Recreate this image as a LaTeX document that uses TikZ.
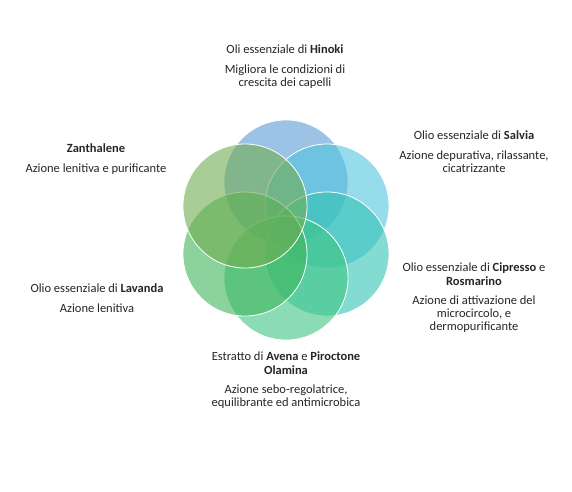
\documentclass[tikz,border=0pt]{standalone}
\usepackage{fontspec}
\setmainfont{Carlito}
\usepackage{xcolor}
\usetikzlibrary{positioning}

\definecolor{hinokiC}{RGB}{91,155,213}
\definecolor{salviaC}{RGB}{80,197,222}
\definecolor{cipressoC}{RGB}{50,195,180}
\definecolor{avenaC}{RGB}{63,197,130}
\definecolor{lavandaC}{RGB}{63,180,90}
\definecolor{zanthC}{RGB}{113,172,80}

\begin{document}
\begin{tikzpicture}[x=1pt,y=-1pt,
  petal/.style={circle,minimum size=124pt,draw=white,line width=0.8pt,fill opacity=0.6,inner sep=0pt},
  lbl/.style={align=center,font=\fontsize{12.5}{13.2}\selectfont,text=black!85,inner sep=0pt,anchor=north}]
\useasboundingbox[fill=white] (0,0) rectangle (572,491);
% petals, clockwise from the top
\node[petal,fill=hinokiC] (hinoki) at (286,182) {};
\node[petal,fill=salviaC] (salvia) at (327,206) {};
\node[petal,fill=cipressoC] (cipresso) at (327,254) {};
\node[petal,fill=avenaC] (avena) at (286,278) {};
\node[petal,fill=lavandaC] (lavanda) at (245,254) {};
\node[petal,fill=zanthC] (zanth) at (245,206) {};
% labels
\node[lbl] (hinokiT) at (285,45) {Oli essenziale di \textbf{Hinoki}\\[6pt]Migliora le condizioni di\\crescita dei capelli};
\node[lbl] (salviaT) at (474,131) {Olio essenziale di \textbf{Salvia}\\[6pt]Azione depurativa, rilassante,\\cicatrizzante};
\node[lbl] (cipressoT) at (474,263) {Olio essenziale di \textbf{Cipresso} e\\\textbf{Rosmarino}\\[6pt]Azione di attivazione del\\microcircolo, e\\dermopurificante};
\node[lbl] (avenaT) at (286,352) {Estratto di \textbf{Avena} e \textbf{Piroctone}\\\textbf{Olamina}\\[6pt]Azione sebo-regolatrice,\\equilibrante ed antimicrobica};
\node[lbl] (lavandaT) at (97,284) {Olio essenziale di \textbf{Lavanda}\\[6pt]Azione lenitiva};
\node[lbl] (zanthT) at (96,144) {\textbf{Zanthalene}\\[6pt]Azione lenitiva e purificante};
\end{tikzpicture}
\end{document}
